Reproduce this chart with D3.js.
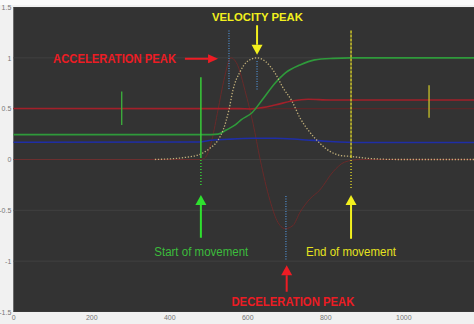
<!DOCTYPE html>
<html>
<head>
<meta charset="utf-8">
<script src="https://cdn.jsdelivr.net/npm/d3@7/dist/d3.min.js"></script>
<style>
  html, body { margin: 0; padding: 0; background: #f1f1f1; }
  svg { display: block; }
</style>
</head>
<body>
<script>
// ---- signals (time in ms, normalised amplitude) ----
const positionTime = [0, 490, 525, 546, 569, 584, 612, 638, 671, 697, 735, 773, 820, 863, 1200];
const position     = [0.245, 0.245, 0.25, 0.29, 0.34, 0.39, 0.46, 0.585, 0.75, 0.85, 0.93, 0.98, 0.995, 1.0, 1.0];

const velocityTime = [363, 440, 484, 504, 525, 538, 553, 563, 581, 602, 625, 648, 671, 691, 715, 735, 760, 786, 812, 838, 866, 914, 991, 1200];
const velocity     = [0, 0.02, 0.06, 0.11, 0.19, 0.29, 0.49, 0.68, 0.86, 0.97, 1.0, 0.96, 0.85, 0.71, 0.57, 0.41, 0.27, 0.16, 0.08, 0.04, 0.03, 0.01, 0, 0];

const accelTime = [0, 479, 491, 509, 525, 540, 558, 576, 594, 615, 633, 658, 676, 697, 717, 735, 760, 786, 820, 850, 889, 1200];
const accel     = [0, 0, 0.015, 0.19, 0.49, 0.78, 1.0, 0.92, 0.68, 0.35, 0, -0.4, -0.6, -0.68, -0.65, -0.52, -0.39, -0.3, -0.12, -0.025, 0, 0];

const levelTime = [0, 581, 607, 638, 671, 715, 756, 812, 1200];
const level     = [0.502, 0.5, 0.497, 0.51, 0.536, 0.575, 0.592, 0.585, 0.585];

const blueTime = [0, 479, 499, 550, 612, 671, 735, 812, 889, 1200];
const blueSig  = [0.17, 0.172, 0.185, 0.199, 0.209, 0.209, 0.197, 0.177, 0.167, 0.167];

const referenceTime  = [0, 1200];
const referenceLevel = [0.5, 0.5];

// ---- events (ms) ----
const eventNames = ["start", "accelPeak", "velPeak", "decelPeak", "end", "tickA", "tickB"];
const eventTimes = [481, 553, 625, 699, 866, 278, 1066];

// ---- axis ticks ----
const xTicks = [0, 200, 400, 600, 800, 1000];
const yTicks = [1.5, 1, 0.5, 0, -0.5, -1, -1.5];

const W = 474, H = 324;
const plot = { left: 13.3, top: 7, right: 481.3, bottom: 312 };

const x = d3.scaleLinear().domain([0, 1200]).range([plot.left, plot.right]);
const y = d3.scaleLinear().domain([-1.5, 1.5]).range([plot.bottom, plot.top]);

const svg = d3.select("body").append("svg").attr("width", W).attr("height", H);

svg.append("rect").attr("x", 0).attr("y", 0).attr("width", W).attr("height", 5).attr("fill", "#fafafa");

svg.append("defs").append("clipPath").attr("id", "plotClip")
  .append("rect").attr("x", plot.left).attr("y", plot.top)
  .attr("width", plot.right - plot.left).attr("height", plot.bottom - plot.top);

svg.append("rect")
  .attr("x", plot.left).attr("y", plot.top)
  .attr("width", plot.right - plot.left).attr("height", plot.bottom - plot.top)
  .attr("fill", "#333333");

const g = svg.append("g").attr("clip-path", "url(#plotClip)");

// horizontal grid
g.selectAll("line.grid").data(yTicks).join("line")
  .attr("class", "grid")
  .attr("x1", plot.left).attr("x2", plot.right)
  .attr("y1", d => y(d)).attr("y2", d => y(d))
  .attr("stroke", "#404040").attr("stroke-width", 1);

const line = d3.line().x(d => x(d[0])).y(d => y(d[1])).curve(d3.curveMonotoneX);
const zip = (ts, vs) => ts.map((t, i) => [t, vs[i]]);

function series(ts, vs, color, width, dash, opacity) {
  g.append("path").datum(zip(ts, vs))
    .attr("d", line)
    .attr("fill", "none")
    .attr("stroke", color)
    .attr("stroke-width", width)
    .attr("stroke-dasharray", dash || null)
    .attr("opacity", opacity == null ? 1 : opacity);
}

series(referenceTime, referenceLevel, "#5e2325", 1);
series(accelTime, accel, "#8a2424", 1, null, 0.6);
series(blueTime, blueSig, "#1f2ea6", 1.6);
series(levelTime, level, "#a3202a", 1.6);
series(positionTime, position, "#2f9a3b", 1.6);
series(velocityTime, velocity, "#c2b07a", 1.3, "1.3,1.7");

// event markers
const ev = name => eventTimes[eventNames.indexOf(name)];
function vline(t, v1, v2, color, width, dash) {
  g.append("line")
    .attr("x1", x(t)).attr("x2", x(t))
    .attr("y1", y(v1)).attr("y2", y(v2))
    .attr("stroke", color).attr("stroke-width", width)
    .attr("stroke-dasharray", dash || null);
}
const blueDot = "#4b7eb2";
vline(ev("accelPeak"), 1.27, 0.68, blueDot, 1.5, "1,1.5");
vline(ev("velPeak"), 0.97, 0.68, blueDot, 1.5, "1,1.5");
vline(ev("decelPeak"), -0.36, -0.99, blueDot, 1.5, "1,1.5");

vline(ev("start"), 0.81, 0.025, "#38cc38", 1.5);
vline(ev("start"), 0.025, -0.27, "#38cc38", 1.5, "1,2");
vline(ev("end"), 1.27, 0.025, "#cfc82a", 1.5, "3,1");
vline(ev("end"), 0.025, -0.28, "#cfc82a", 1.5, "1,2");

vline(ev("tickA"), 0.67, 0.34, "#3db23d", 1.3);
vline(ev("tickB"), 0.73, 0.41, "#c8c22a", 1.3);

// annotation arrows
function vArrow(t, tipV, tailV, color) {
  const px = x(t), tip = y(tipV), tail = y(tailV);
  const dir = tail > tip ? 1 : -1;
  const base = tip + dir * 10;
  g.append("line").attr("x1", px).attr("x2", px).attr("y1", base).attr("y2", tail)
    .attr("stroke", color).attr("stroke-width", 2);
  g.append("path")
    .attr("d", `M${px},${tip} L${px - 5.5},${base} L${px + 5.5},${base} Z`)
    .attr("fill", color);
}
function hArrow(v, tailT, tipT, color) {
  const py = y(v), tip = x(tipT), tail = x(tailT);
  const base = tip - 10;
  g.append("line").attr("x1", tail).attr("x2", base).attr("y1", py).attr("y2", py)
    .attr("stroke", color).attr("stroke-width", 2);
  g.append("path")
    .attr("d", `M${tip},${py} L${base},${py - 4.5} L${base},${py + 4.5} Z`)
    .attr("fill", color);
}

const RED = "#ee1c24", YELLOW = "#f2f01e", GREEN = "#2fe02f";
hArrow(0.99, 440, 525, RED);
vArrow(ev("velPeak"), 1.03, 1.32, YELLOW);
vArrow(ev("start"), -0.35, -0.77, GREEN);
vArrow(ev("end"), -0.35, -0.78, YELLOW);
vArrow(701, -1.04, -1.30, RED);

// annotation text
function label(t, v, text, color, weight, anchor, len, size) {
  svg.append("text")
    .attr("x", x(t)).attr("y", y(v))
    .attr("dy", "0.35em")
    .attr("text-anchor", anchor)
    .attr("font-family", "Liberation Sans, Arial, sans-serif")
    .attr("font-size", size)
    .attr("font-weight", weight)
    .attr("fill", color)
    .attr("textLength", len)
    .attr("lengthAdjust", "spacingAndGlyphs")
    .text(text);
}
label(102, 0.99, "ACCELERATION PEAK", "#ec1c24", "bold", "start", 123, 12.5);
label(626, 1.405, "VELOCITY PEAK", "#f2f01e", "bold", "middle", 91, 11.5);
label(482, -0.91, "Start of movement", "#3cbc3c", "normal", "middle", 94, 12);
label(866, -0.91, "End of movement", "#e6e21e", "normal", "middle", 90, 12);
label(717, -1.40, "DECELERATION PEAK", "#ec1c24", "bold", "middle", 123, 12.5);

// axes
const yAxis = svg.append("g")
  .attr("transform", `translate(${plot.left},0)`)
  .call(d3.axisLeft(y).tickValues(yTicks).tickSize(0).tickPadding(2).tickFormat(d => String(d)));
const xAxis = svg.append("g")
  .attr("transform", `translate(0,${plot.bottom})`)
  .call(d3.axisBottom(x).tickValues(xTicks).tickSize(0).tickPadding(3).tickFormat(d => String(d)));
[yAxis, xAxis].forEach(a => {
  a.select(".domain").remove();
  a.selectAll("text")
    .attr("fill", "#777")
    .attr("font-size", 7)
    .attr("font-family", "Liberation Sans, Arial, sans-serif");
});
</script>
</body>
</html>
